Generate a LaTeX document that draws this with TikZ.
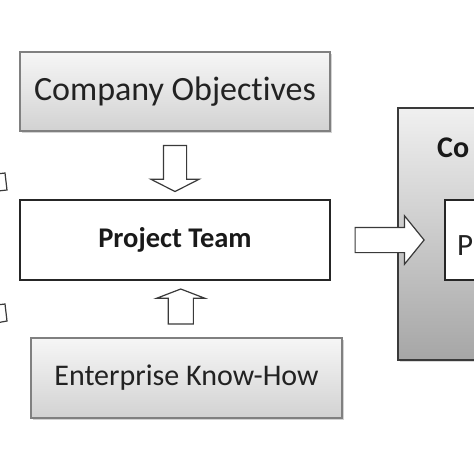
\documentclass[tikz,border=0pt]{standalone}
\usepackage{fontspec}
\setmainfont{Carlito}[Ligatures=NoCommon]
\usetikzlibrary{shapes.arrows,shadows,calc}

\definecolor{boxline}{HTML}{808080}
\definecolor{boxtop}{HTML}{F6F6F6}
\definecolor{boxbottom}{HTML}{D2D2D2}
\definecolor{ctxtop}{HTML}{F0F0F0}
\definecolor{ctxbottom}{HTML}{A6A6A6}
\definecolor{darktext}{HTML}{222222}
\definecolor{arrowline}{HTML}{3A3A3A}

\tikzset{
  greybox/.style={draw=boxline,line width=1.5pt,top color=boxtop,bottom color=boxbottom,
    drop shadow={shadow xshift=1.5pt,shadow yshift=-2pt,opacity=0.35},
    minimum width=310,minimum height=79,text=darktext},
  whitebox/.style={draw=black!85,line width=1.2pt,fill=white,minimum width=310,minimum height=80},
  blockarrow/.style={single arrow,draw=arrowline,fill=white,line width=1.2pt,
    inner xsep=0pt,inner ysep=12pt,single arrow head extend=11.5pt},
}

\begin{document}
\begin{tikzpicture}[x=1pt,y=-1pt]
  \useasboundingbox (0,0) rectangle (474,474);
  \clip (0,0) rectangle (474,474);

  \node (obj) at (175,91.5) [greybox,font=\fontsize{34}{40}\selectfont]{Company Objectives};
  \node (team) at (175,240) [whitebox,font=\bfseries\fontsize{28.5}{34}\selectfont,text=black!90]{Project Team};
  \node (know) at (186.5,378) [greybox,minimum width=311,minimum height=80,font=\fontsize{30}{36}\selectfont]{Enterprise Know-How};

  \node (ctx) at (479,234) [draw=arrowline,line width=1.2pt,top color=ctxtop,bottom color=ctxbottom,
    drop shadow={shadow xshift=1.5pt,shadow yshift=-2pt,opacity=0.3},minimum width=162,minimum height=252]{};
  \node (ctxlabel) at (437,157) [anchor=base west,inner sep=0,font=\bfseries\fontsize{30}{36}\selectfont,text=black!90]{Co};
  \node (inner) at (485,240) [whitebox,minimum width=80]{};
  \node (innerlabel) at (457,255) [anchor=base west,inner sep=0,font=\fontsize{31}{37}\selectfont,text=darktext]{P};

  % block arrows between the boxes
  \node (down) at ($(obj.south)!0.5!(team.north)$) [blockarrow,rotate=-90,minimum height=46,
    inner ysep=11pt,single arrow head extend=12.5pt,single arrow tip angle=126]{};
  \node (up) at ($(team.south)!0.5!(know.north)$) [blockarrow,rotate=90,minimum height=35,
    single arrow tip angle=138]{};
  \node (right) at ($(team.east)!0.5!(inner.west)+(-3,0)$) [blockarrow,minimum height=69,
    single arrow tip angle=102]{};

  % cut-off arrows at the left edge
  \draw[arrowline,line width=1.2pt,fill=white] (-20,176) -- (5,173) -- (7,190) -- (-20,193);
  \draw[arrowline,line width=1.2pt,fill=white] (-20,307) -- (5,304) -- (7,321) -- (-20,326);

\end{tikzpicture}
\end{document}
